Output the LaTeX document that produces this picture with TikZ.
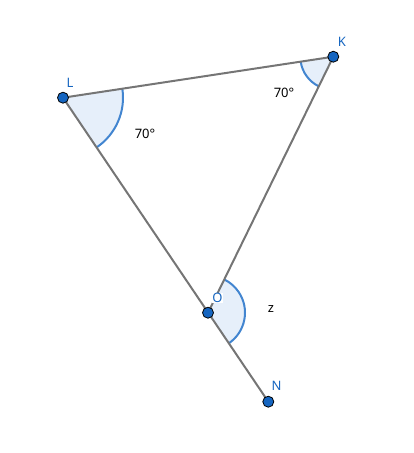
\documentclass[tikz,border=0pt]{standalone}
\usepackage{fontspec}
\setmainfont{Noto Sans}
\usetikzlibrary{angles}
\definecolor{ptblue}{RGB}{21,101,192}
\definecolor{seggray}{RGB}{117,117,117}
\definecolor{arcblue}{RGB}{66,133,208}
\definecolor{arcfill}{RGB}{230,239,250}
\tikzset{
  pt/.style={circle,fill=ptblue,draw=black,line width=0.8pt,inner sep=0pt,minimum size=11pt},
  ptname/.style={text=ptblue,font=\fontsize{13}{15}\selectfont},
  anglabel/.style={font=\fontsize{13}{15}\selectfont},
  seg/.style={seggray,line width=2pt},
  ang/.style={draw=arcblue,fill=arcfill,line width=2pt},
}
\begin{document}
\begin{tikzpicture}[x=1pt,y=1pt]
        \useasboundingbox (0,0) rectangle (413,-453);
        \coordinate (L) at (63,-97.7);
        \coordinate (K) at (333.3,-56.7);
        \coordinate (O) at (208,-312.7);
        \coordinate (N) at (268.3,-401.7);
        \pic[ang,angle radius=60] {angle=O--L--K};
        \pic[ang,angle radius=33] {angle=L--K--O};
        \pic[ang,angle radius=37] {angle=N--O--K};
        \draw[seg] (L) -- (K);
        \draw[seg] (K) -- (O);
        \draw[seg] (L) -- (N);
        \node[pt] (pL) at (L) {}; \node[ptname] (nL) at (70,-83) {L};
        \node[pt] (pK) at (K) {}; \node[ptname] (nK) at (342,-42) {K};
        \node[pt] (pO) at (O) {}; \node[ptname,fill=white,inner sep=0.5pt] (nO) at (217.5,-298) {O};
        \node[pt] (pN) at (N) {}; \node[ptname] (nN) at (276.5,-386) {N};
        \node[anglabel] (aL) at (145,-134) {70°};
        \node[anglabel] (aK) at (284,-93) {70°};
        \node[anglabel] (aO) at (271,-309) {z};
\end{tikzpicture}
\end{document}
